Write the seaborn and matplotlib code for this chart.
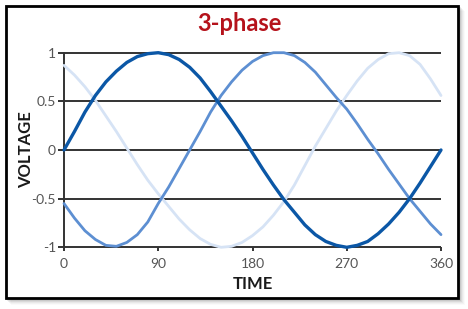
import numpy as np
import pandas as pd
import matplotlib
matplotlib.use("Agg")
import matplotlib.pyplot as plt
from matplotlib.patches import Rectangle
import seaborn as sns

# ---- data ----
angles = [0, 10, 20, 30, 40, 50, 60, 70, 80, 90, 100, 110, 120, 130, 140, 150, 160, 170, 180,
          190, 200, 210, 220, 230, 240, 250, 260, 270, 280, 290, 300, 310, 320, 330, 340, 350, 360]
phase_a = [0.00, 0.19, 0.39, 0.56, 0.70, 0.81, 0.90, 0.96, 0.99, 1.00, 0.98, 0.93, 0.85,
           0.74, 0.60, 0.45, 0.30, 0.14, -0.03, -0.20, -0.36, -0.51, -0.64, -0.77, -0.87,
           -0.94, -0.98, -1.00, -0.98, -0.94, -0.86, -0.76, -0.64, -0.50, -0.34, -0.17, 0.00]
phase_b = [-0.55, -0.70, -0.83, -0.92, -0.98, -0.99, -0.95, -0.87, -0.74, -0.55, -0.38, -0.19,
           0.00, 0.19, 0.39, 0.56, 0.70, 0.82, 0.91, 0.97, 1.00, 1.00, 0.97, 0.90, 0.80, 0.67,
           0.54, 0.42, 0.27, 0.11, -0.04, -0.20, -0.35, -0.50, -0.63, -0.76, -0.87]
phase_c = [0.87, 0.77, 0.65, 0.51, 0.35, 0.19, 0.02, -0.15, -0.31, -0.45, -0.58, -0.71, -0.82,
           -0.91, -0.97, -1.00, -0.99, -0.95, -0.88, -0.79, -0.67, -0.53, -0.36, -0.16, 0.04,
           0.22, 0.40, 0.56, 0.71, 0.84, 0.93, 0.99, 1.00, 0.97, 0.88, 0.73, 0.56]
series_names = ["A", "B", "C"]
x_ticks = [0, 90, 180, 270, 360]
y_ticks = [-1, -0.5, 0, 0.5, 1]
y_tick_labels = ["-1", "-0.5", "0", "0.5", "1"]
title = "3-phase"
x_label = "TIME"
y_label = "VOLTAGE"

df = pd.DataFrame({
    "time": angles * 3,
    "voltage": phase_a + phase_b + phase_c,
    "phase": [series_names[0]] * len(angles) + [series_names[1]] * len(angles) + [series_names[2]] * len(angles),
})

sns.set_style("white")
plt.rcParams["font.family"] = ["Lato", "DejaVu Sans"]

W, H = 468, 309
fig = plt.figure(figsize=(W / 100, H / 100), dpi=100)
fig.patch.set_facecolor("white")

def fx(px):
    return px / W

def fy(py):
    return 1 - py / H

# shadow + frame
fl, ft, fr, fb = 6, 6, 458, 298
for i, a in enumerate([0.10, 0.09, 0.08, 0.06, 0.04, 0.03, 0.02]):
    off = 1 + i
    fig.patches.append(Rectangle((fx(fl + off - 2), fy(fb + off)), fx(fr - fl + 2), (fb - ft + 2) / H,
                                 transform=fig.transFigure, facecolor="black", edgecolor="none",
                                 alpha=a, zorder=0))
fig.patches.append(Rectangle((fx(fl), fy(fb)), fx(fr - fl), (fb - ft) / H,
                             transform=fig.transFigure, facecolor="white", edgecolor="black",
                             linewidth=2.0, zorder=1))

ax = fig.add_axes([fx(64), fy(247.3), fx(441 - 64), (247.3 - 52.7) / H])
ax.set_zorder(2)
ax.patch.set_alpha(0)

# grid lines
ax.hlines(y_ticks, 0, 360, colors="#333333", linewidth=1.4, clip_on=False, zorder=1)

palette = {"A": "#0b57a6", "B": "#5d8fd2", "C": "#d6e3f5"}
widths = {"A": 2.4, "B": 2.0, "C": 2.0}
for name in ["C", "B", "A"]:
    sub = df[df["phase"] == name]
    sns.lineplot(data=sub, x="time", y="voltage", ax=ax, color=palette[name],
                 linewidth=widths[name], clip_on=False, zorder=3, legend=False,
                 solid_joinstyle="round", solid_capstyle="round")

ax.set_xlim(0, 360)
ax.set_ylim(-1, 1)
ax.set_xticks(x_ticks)
ax.set_xticklabels([str(t) for t in x_ticks])
ax.set_yticks(y_ticks)
ax.set_yticklabels(y_tick_labels)
for s in ["top", "right", "bottom"]:
    ax.spines[s].set_visible(False)
ax.spines["left"].set_color("#333333")
ax.spines["left"].set_linewidth(1.4)
ax.tick_params(axis="y", direction="out", length=4.3, width=1.4, color="#333333",
               pad=1.5, labelsize=10, labelcolor="#555555", left=True)
ax.tick_params(axis="x", direction="out", length=3.0, width=1.4, color="#333333",
               pad=5, labelsize=10, labelcolor="#555555", bottom=True)
ax.set_xlabel("")
ax.set_ylabel("")

fig.text(fx(239), fy(30.7), title, color="#b5121b", fontsize=17, fontweight="bold",
         ha="center", va="baseline")
fig.text(fx(252.5), fy(284), x_label, color="#1a1a1a", fontsize=12, fontweight="bold",
         ha="center", va="center")
fig.text(fx(26), fy(150), y_label, color="#1a1a1a", fontsize=12, fontweight="bold",
         ha="center", va="center", rotation=90)

fig.savefig("out.png", dpi=100)
